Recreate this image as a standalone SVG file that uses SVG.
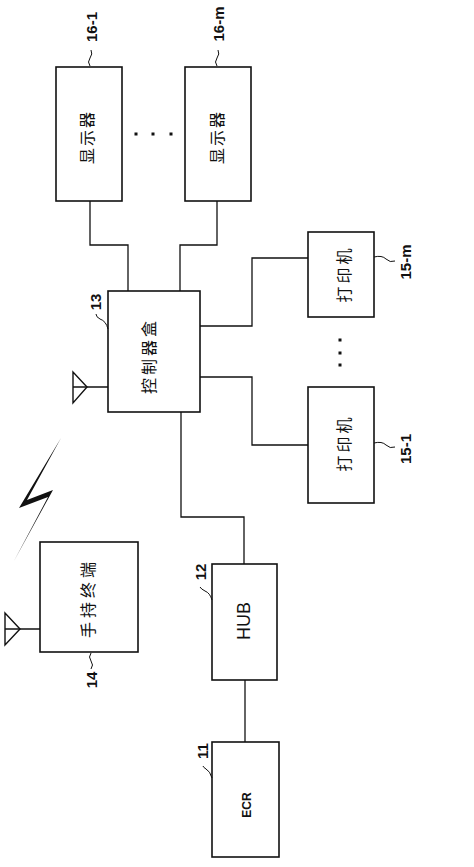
<svg xmlns="http://www.w3.org/2000/svg" width="474" height="867" viewBox="0 0 474 867">
<style>
.box{fill:#fff;stroke:#111;stroke-width:1.6}
.wire{fill:none;stroke:#111;stroke-width:1.3}
.lead{fill:none;stroke:#111;stroke-width:1}
.cn{font-family:"Noto Sans CJK SC","Noto Sans CJK JP",sans-serif;font-size:16px;fill:#111;text-anchor:middle;dominant-baseline:central}
.num{font-family:"Liberation Sans",Arial,sans-serif;font-weight:bold;font-size:15px;fill:#111;text-anchor:middle;dominant-baseline:central}
.dot{fill:#111}
</style>
<rect width="474" height="867" fill="#fff"/>
<g id="connectors">
<polyline class="wire" points="90,201 90,245 128,245 128,291"/>
<polyline class="wire" points="217,201 217,245 180,245 180,291"/>
<polyline class="wire" points="200,326 252,326 252,258 308,258"/>
<polyline class="wire" points="200,377 252,377 252,445 308,445"/>
<polyline class="wire" points="181,412 181,517 244,517 244,564"/>
<line class="wire" x1="245" y1="680" x2="245" y2="742"/>
</g>
<g id="display-1">
<rect class="box" x="56" y="67" width="66" height="134"/>
<text class="cn" transform="translate(86,137) rotate(-90)" letter-spacing="2">显示器</text>
<path class="lead" d="M90,66 q-3,-4 0,-8 q3,-4 1,-8"/>
<text class="num" transform="translate(91,27) rotate(-90)">16-1</text>
</g>
<g id="display-m">
<rect class="box" x="185" y="67" width="66" height="134"/>
<text class="cn" transform="translate(216,137) rotate(-90)" letter-spacing="2">显示器</text>
<path class="lead" d="M217,66 q-3,-4 0,-8 q3,-4 1,-8"/>
<text class="num" transform="translate(218,24) rotate(-90)">16-m</text>
</g>
<g id="display-dots">
<rect class="dot" x="134.5" y="132.5" width="3" height="3"/>
<rect class="dot" x="151.5" y="132.5" width="3" height="3"/>
<rect class="dot" x="169.5" y="132.5" width="3" height="3"/>
</g>
<g id="control-box">
<rect class="box" x="108" y="291" width="92" height="121"/>
<text class="cn" transform="translate(148,356) rotate(-90)" letter-spacing="3">控制器盒</text>
<path class="lead" d="M108,329 q-2,-8 -8,-10 q-4,-2 -4,-5"/>
<text class="num" transform="translate(95,302) rotate(-90)">13</text>
<line class="wire" x1="73" y1="387" x2="108" y2="387"/>
<polygon points="73,372 73,403 87,387" fill="none" stroke="#111" stroke-width="1.4"/>
</g>
<g id="printer-m">
<rect class="box" x="308" y="232" width="66" height="85"/>
<text class="cn" transform="translate(343,274) rotate(-90)" letter-spacing="3">打印机</text>
<path class="lead" d="M374,257 q8,-2 12,2 q4,4 9,2"/>
<text class="num" transform="translate(405,262) rotate(-90)">15-m</text>
</g>
<g id="printer-dots">
<rect class="dot" x="338.5" y="338.5" width="3" height="3"/>
<rect class="dot" x="338.5" y="351.5" width="3" height="3"/>
<rect class="dot" x="338.5" y="363.5" width="3" height="3"/>
</g>
<g id="printer-1">
<rect class="box" x="308" y="387" width="66" height="116"/>
<text class="cn" transform="translate(343,443) rotate(-90)" letter-spacing="3">打印机</text>
<path class="lead" d="M374,443 q8,-2 12,2 q4,4 9,2"/>
<text class="num" transform="translate(405,449) rotate(-90)">15-1</text>
</g>
<g id="lightning">
<polygon points="61,438 19,508 48,497 14,561 53,490 27,500" fill="#111"/>
</g>
<g id="handheld">
<rect class="box" x="40" y="542" width="98" height="110"/>
<text class="cn" transform="translate(87,598) rotate(-90)" letter-spacing="4">手持终端</text>
<path class="lead" d="M91,653 q-3,4 0,8 q3,4 0,8"/>
<text class="num" transform="translate(91,680) rotate(-90)">14</text>
<line class="wire" x1="5" y1="629" x2="40" y2="629"/>
<polygon points="5,613 5,645 20,629" fill="none" stroke="#111" stroke-width="1.4"/>
</g>
<g id="hub">
<rect class="box" x="212" y="564" width="65" height="116"/>
<text transform="translate(244,621) rotate(-90)" font-family="Liberation Sans, Arial, sans-serif" font-size="18" fill="#111" text-anchor="middle" dominant-baseline="central">HUB</text>
<path class="lead" d="M212,600 q-2,-7 -7,-9 q-4,-2 -5,-4"/>
<text class="num" transform="translate(200,572) rotate(-90)">12</text>
</g>
<g id="ecr">
<rect class="box" x="212" y="742" width="67" height="115"/>
<text transform="translate(247,805) rotate(-90)" font-family="Liberation Sans, Arial, sans-serif" font-weight="bold" font-size="12" fill="#111" text-anchor="middle" dominant-baseline="central">ECR</text>
<path class="lead" d="M212,778 q-2,-7 -6,-9 q-3,-2 -3,-3"/>
<text class="num" transform="translate(202,751) rotate(-90)">11</text>
</g>
</svg>
